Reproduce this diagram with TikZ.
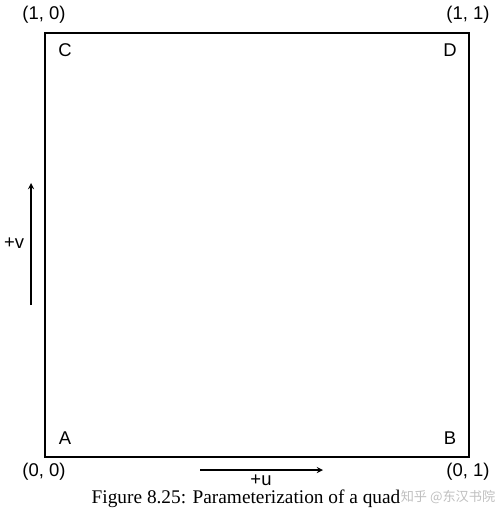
\documentclass[tikz,border=0pt]{standalone}
\usepackage{fontspec}
\setmainfont{Liberation Serif}
\setsansfont{Liberation Sans}
\newfontfamily\cjkfont{Noto Sans CJK SC}
\usepackage{tikz}

\begin{document}
\begin{tikzpicture}[x=0.02cm,y=-0.02cm,>=stealth,
    lbl/.style={font=\sffamily\fontsize{10.5}{12}\selectfont, inner sep=1pt},
    axis/.style={->, semithick}]
  \useasboundingbox (0,0) rectangle (500,520);

  % The quad
  \draw[thick] (45,33) rectangle (469,457);

  % Corner letters
  \node[lbl] (ptC) at (65,50) {C};
  \node[lbl] (ptD) at (450,50) {D};
  \node[lbl] (ptA) at (65,438) {A};
  \node[lbl] (ptB) at (450,438) {B};

  % Parameter values at the corners
  \node[lbl] (uvC) at (44,15) {(1, 0)};
  \node[lbl] (uvD) at (468,15) {(1, 1)};
  \node[lbl] (uvA) at (44,472) {(0, 0)};
  \node[lbl] (uvB) at (468,472) {(0, 1)};

  % Direction arrows
  \coordinate (vlo) at (31,305);
  \coordinate (vhi) at (31,183);
  \draw[axis] (vlo) -- (vhi);
  \node[lbl] (vlbl) at (14,243) {+v};

  \coordinate (ulo) at (200,470);
  \coordinate (uhi) at (323,470);
  \draw[axis] (ulo) -- (uhi);
  \node[lbl] (ulbl) at (261,480.5) {+u};

  % Caption and watermark
  \node[font=\fontsize{11}{12}\selectfont, inner sep=1pt] (cap) at (246,499) {Figure 8.25: Parameterization of a quad};
  \node[font=\cjkfont\fontsize{7.5}{9}\selectfont, text=black!25, inner sep=1pt] (wmark) at (448,497) {知乎 @东汉书院};
\end{tikzpicture}
\end{document}
